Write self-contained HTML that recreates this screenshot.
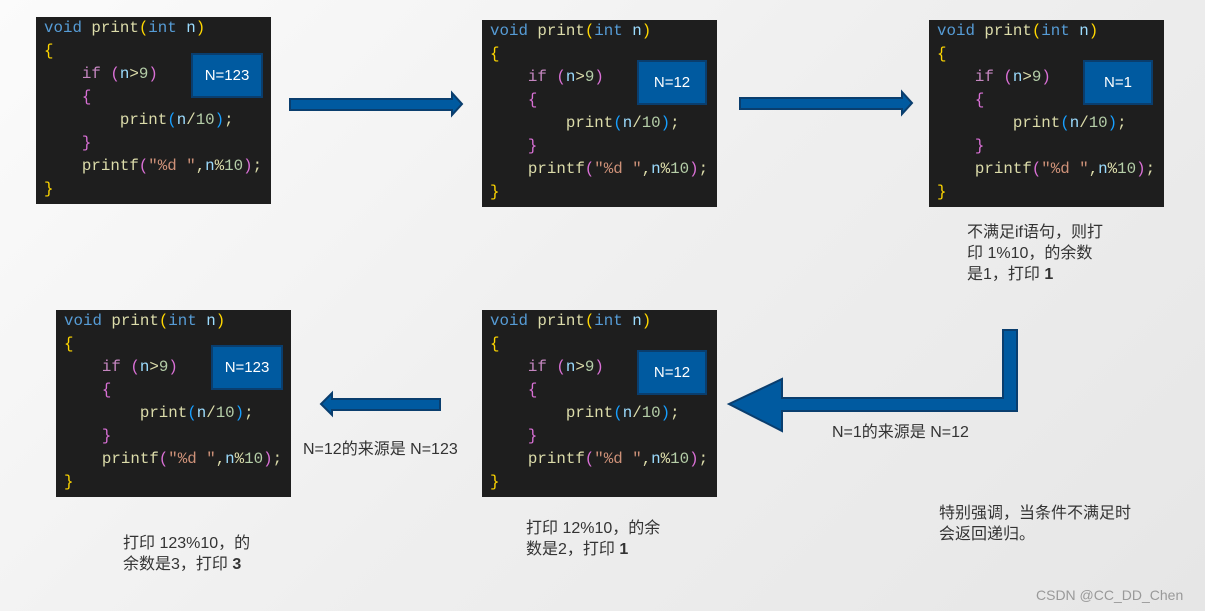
<!DOCTYPE html>
<html><head><meta charset="utf-8"><style>
body{margin:0;width:1205px;height:611px;overflow:hidden;background:linear-gradient(135deg,#fbfbfb 0%,#efefef 50%,#e6e6e6 100%);position:relative;font-family:"Liberation Sans","Noto Sans CJK SC",sans-serif}
.code{position:absolute;width:235px;height:187px;background:#1e1e1e;font-family:"Liberation Mono","DejaVu Sans Mono",monospace;font-size:15.8px;line-height:23px;color:#dcdcaa;box-sizing:border-box;padding:0 0 0 8px}
.code div{height:23px;white-space:pre}
.k{color:#569cd6}.p{color:#9cdcfe}.y{color:#ffd700}.m{color:#da70d6}.c{color:#c586c0}.s{color:#ce9178}.n{color:#b5cea8}.b{color:#179fff}
.nb{position:absolute;background:#005aa0;border:2px solid #0a3e6e;color:#fff;font-size:15px;display:flex;align-items:center;justify-content:center;box-sizing:border-box}
.t{position:absolute;font-size:16px;color:#333;line-height:21px}
</style></head><body>

<div class="code" style="left:36px;top:17px"><div><span class="k">void</span> print<span class="y">(</span><span class="k">int</span> <span class="p">n</span><span class="y">)</span></div><div><span class="y">{</span></div><div>    <span class="c">if</span> <span class="m">(</span><span class="p">n</span>&gt;<span class="n">9</span><span class="m">)</span></div><div>    <span class="m">{</span></div><div>        print<span class="b">(</span><span class="p">n</span>/<span class="n">10</span><span class="b">)</span>;</div><div>    <span class="m">}</span></div><div>    printf<span class="m">(</span><span class="s">"%d "</span>,<span class="p">n</span>%<span class="n">10</span><span class="m">)</span>;</div><div><span class="y">}</span></div></div>
<div class="nb" style="left:191px;top:53px;width:72px;height:45px">N=123</div>

<div class="code" style="left:482px;top:20px"><div><span class="k">void</span> print<span class="y">(</span><span class="k">int</span> <span class="p">n</span><span class="y">)</span></div><div><span class="y">{</span></div><div>    <span class="c">if</span> <span class="m">(</span><span class="p">n</span>&gt;<span class="n">9</span><span class="m">)</span></div><div>    <span class="m">{</span></div><div>        print<span class="b">(</span><span class="p">n</span>/<span class="n">10</span><span class="b">)</span>;</div><div>    <span class="m">}</span></div><div>    printf<span class="m">(</span><span class="s">"%d "</span>,<span class="p">n</span>%<span class="n">10</span><span class="m">)</span>;</div><div><span class="y">}</span></div></div>
<div class="nb" style="left:637px;top:60px;width:70px;height:45px">N=12</div>

<div class="code" style="left:929px;top:20px"><div><span class="k">void</span> print<span class="y">(</span><span class="k">int</span> <span class="p">n</span><span class="y">)</span></div><div><span class="y">{</span></div><div>    <span class="c">if</span> <span class="m">(</span><span class="p">n</span>&gt;<span class="n">9</span><span class="m">)</span></div><div>    <span class="m">{</span></div><div>        print<span class="b">(</span><span class="p">n</span>/<span class="n">10</span><span class="b">)</span>;</div><div>    <span class="m">}</span></div><div>    printf<span class="m">(</span><span class="s">"%d "</span>,<span class="p">n</span>%<span class="n">10</span><span class="m">)</span>;</div><div><span class="y">}</span></div></div>
<div class="nb" style="left:1083px;top:60px;width:70px;height:45px">N=1</div>

<div class="code" style="left:56px;top:310px"><div><span class="k">void</span> print<span class="y">(</span><span class="k">int</span> <span class="p">n</span><span class="y">)</span></div><div><span class="y">{</span></div><div>    <span class="c">if</span> <span class="m">(</span><span class="p">n</span>&gt;<span class="n">9</span><span class="m">)</span></div><div>    <span class="m">{</span></div><div>        print<span class="b">(</span><span class="p">n</span>/<span class="n">10</span><span class="b">)</span>;</div><div>    <span class="m">}</span></div><div>    printf<span class="m">(</span><span class="s">"%d "</span>,<span class="p">n</span>%<span class="n">10</span><span class="m">)</span>;</div><div><span class="y">}</span></div></div>
<div class="nb" style="left:211px;top:345px;width:72px;height:45px">N=123</div>

<div class="code" style="left:482px;top:310px"><div><span class="k">void</span> print<span class="y">(</span><span class="k">int</span> <span class="p">n</span><span class="y">)</span></div><div><span class="y">{</span></div><div>    <span class="c">if</span> <span class="m">(</span><span class="p">n</span>&gt;<span class="n">9</span><span class="m">)</span></div><div>    <span class="m">{</span></div><div>        print<span class="b">(</span><span class="p">n</span>/<span class="n">10</span><span class="b">)</span>;</div><div>    <span class="m">}</span></div><div>    printf<span class="m">(</span><span class="s">"%d "</span>,<span class="p">n</span>%<span class="n">10</span><span class="m">)</span>;</div><div><span class="y">}</span></div></div>
<div class="nb" style="left:637px;top:350px;width:70px;height:45px">N=12</div>

<svg width="1205" height="611" style="position:absolute;left:0;top:0">
<g fill="#005aa0" stroke="#0a3e6e" stroke-width="2">
<polygon points="290,99 452,99 452,93 462,104 452,115 452,110 290,110"/>
<polygon points="740,98 902,98 902,92 912,103 902,114 902,109 740,109"/>
<polygon points="440,399 332,399 332,393 321,404 332,415 332,410 440,410"/>
<polygon points="1003,330 1017,330 1017,411 782,411 782,431 729,404 782,379 782,398 1003,398"/>
</g>
</svg>

<div class="t" style="left:967px;top:222px">不满足if语句，则打<br>印 1%10，的余数<br>是1，打印 <b>1</b></div>
<div class="t" style="left:832px;top:422px">N=1的来源是 N=12</div>
<div class="t" style="left:303px;top:439px">N=12的来源是 N=123</div>
<div class="t" style="left:939px;top:503px">特别强调，当条件不满足时<br>会返回递归。</div>
<div class="t" style="left:526px;top:518px">打印 12%10，的余<br>数是2，打印 <b>1</b></div>
<div class="t" style="left:123px;top:533px">打印 123%10，的<br>余数是3，打印 <b>3</b></div>
<div class="t" style="left:1036px;top:585px;font-size:14px;color:#999">CSDN @CC_DD_Chen</div>
</body></html>
